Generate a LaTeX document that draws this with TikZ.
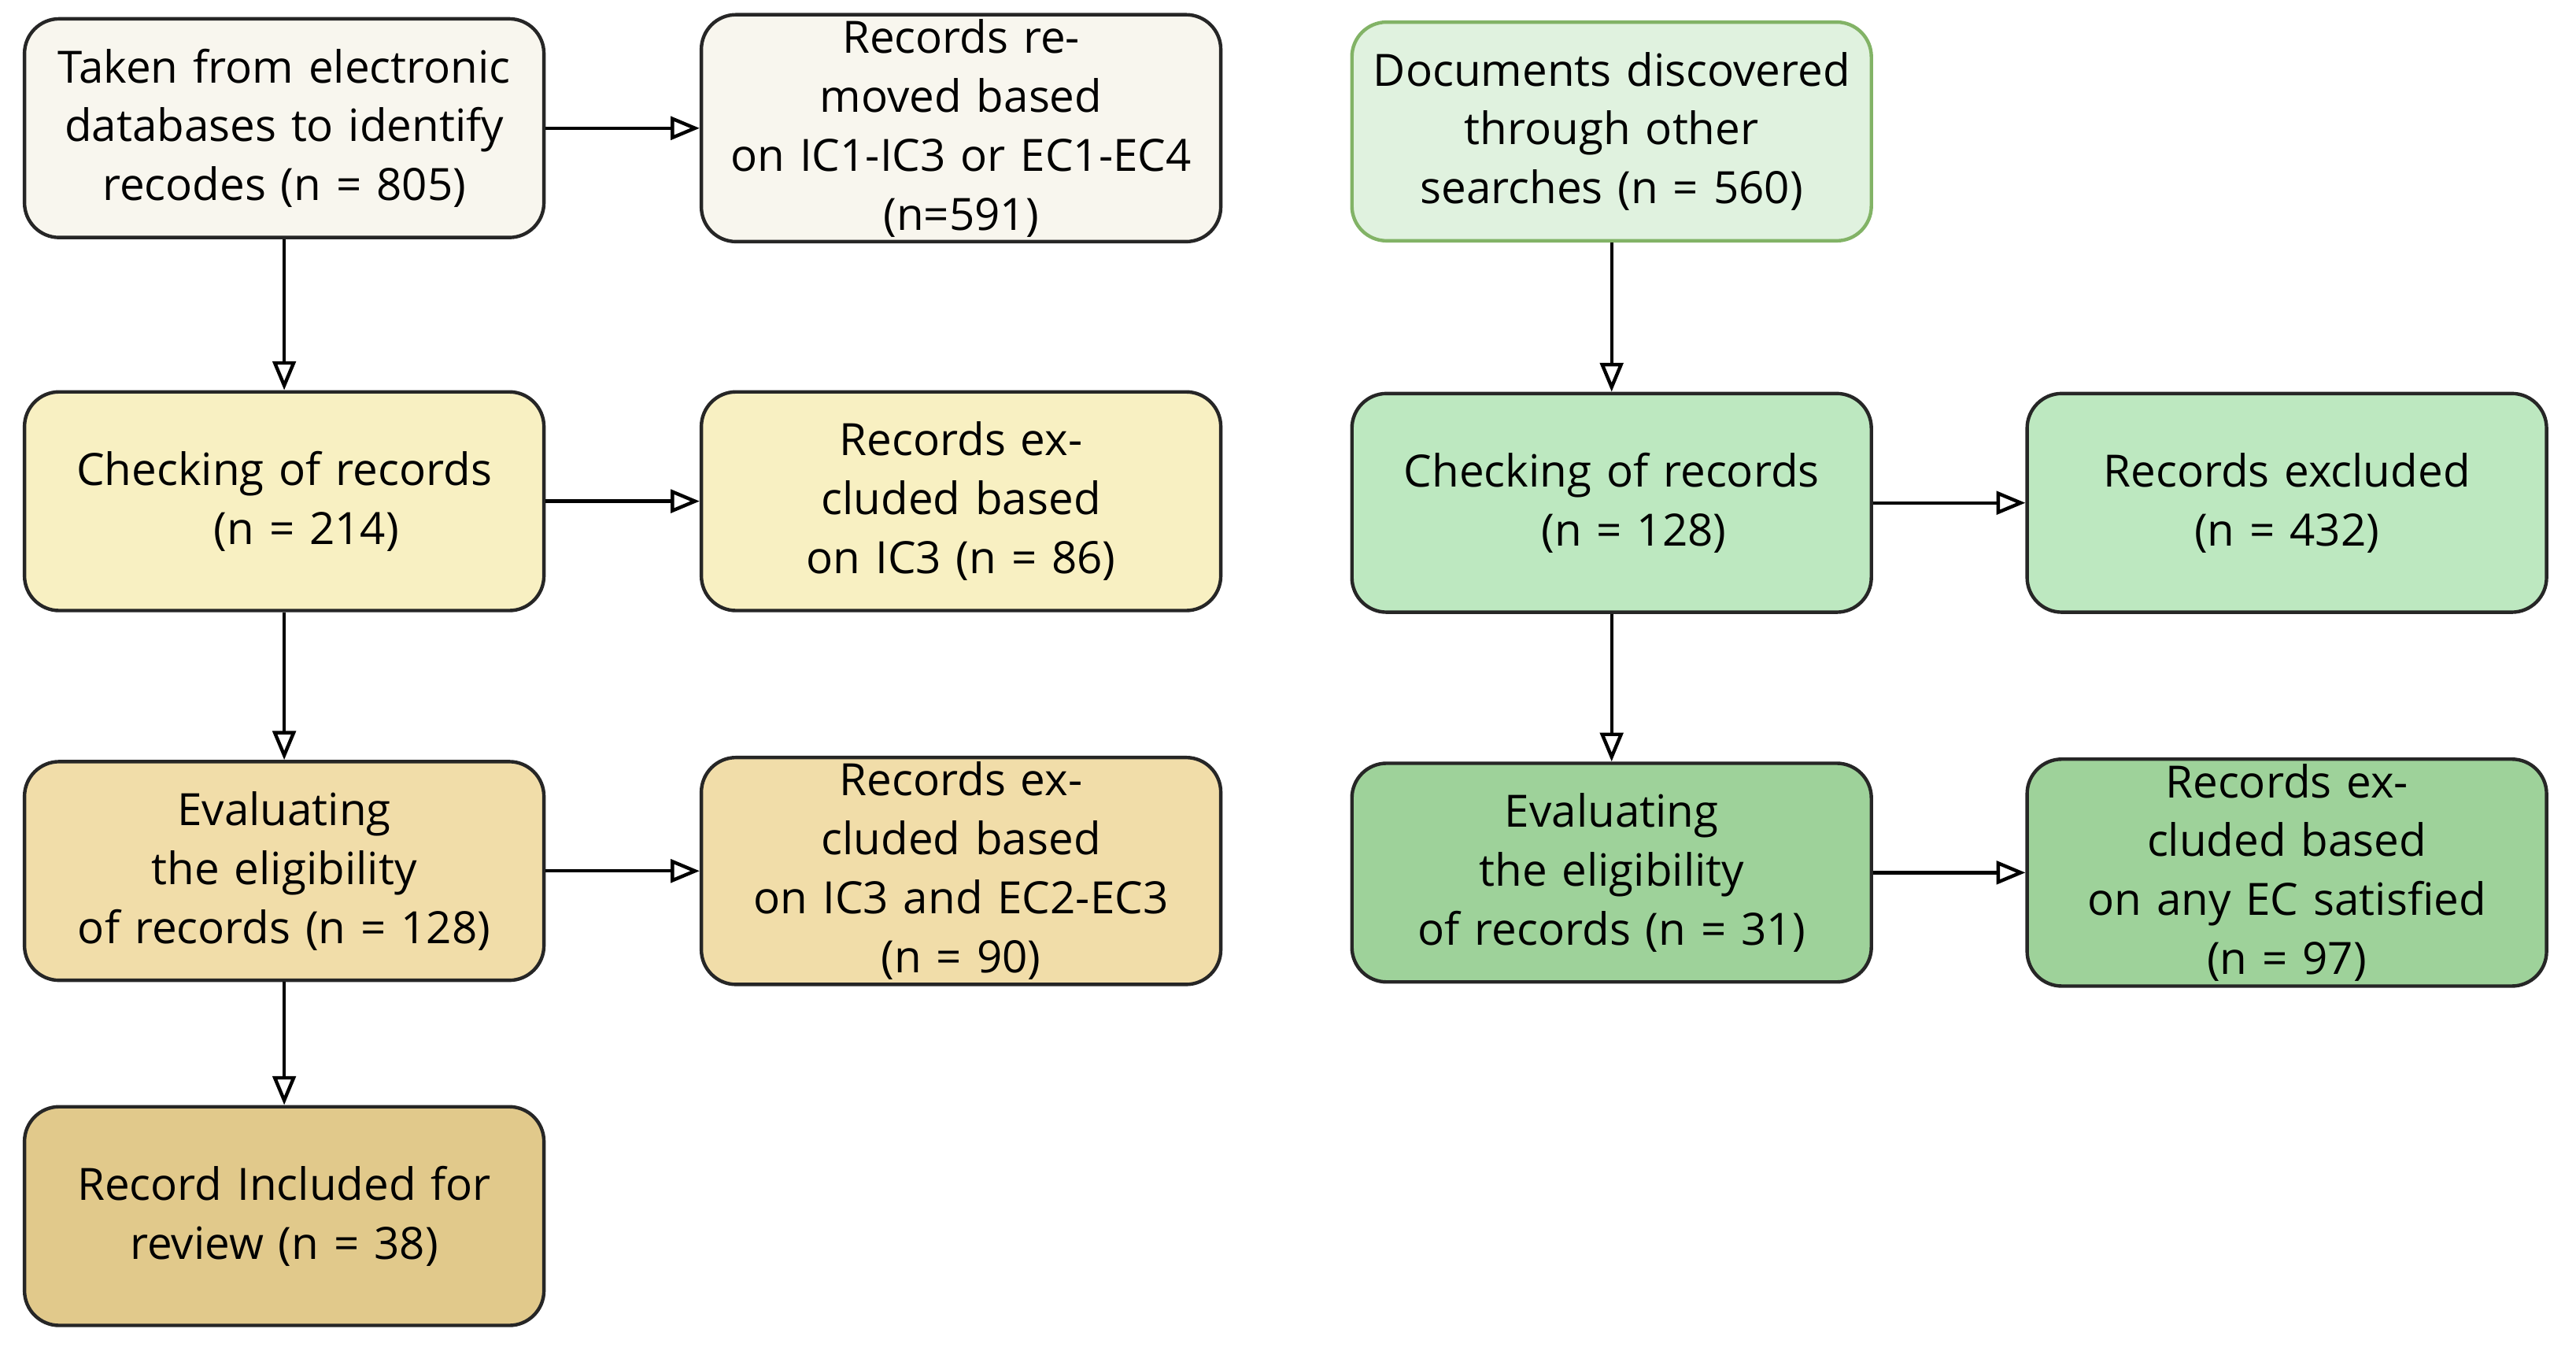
\documentclass[tikz,border=0pt]{standalone}
\usepackage{fontspec}
\setmainfont{Open Sans}
\usetikzlibrary{arrows.meta}
\definecolor{c1}{HTML}{F8F6EE}
\definecolor{c2}{HTML}{F8F0C2}
\definecolor{c3}{HTML}{F1DDA9}
\definecolor{c4}{HTML}{E1C98B}
\definecolor{g1}{HTML}{E0F2DF}
\definecolor{g2}{HTML}{BDE8C0}
\definecolor{g3}{HTML}{9ED29A}
\definecolor{gb}{HTML}{82B366}
\begin{document}
\begin{tikzpicture}[x=0.01cm,y=-0.01cm,
 box/.style={draw=black!85,line width=0.6pt,rounded corners=6pt,text width=3.0cm,minimum width=3.16cm,minimum height=1.33cm,align=center,inner sep=0.8pt,font=\fontsize{7.7}{10.2}\selectfont},
 arr/.style={-{Triangle[open,length=5pt,width=4pt]},line width=0.6pt}]
\useasboundingbox (0,0) rectangle (1568,822);
\node[box,fill=c1] (a1) at (173,78) {Taken from electronic\\databases to identify\\recodes (n = 805)};
\node[box,fill=c1] (b1) at (585,78) {Records removed based\\on IC1-IC3 or EC1-EC4\\(n=591)};
\node[box,fill=c2] (a2) at (173,305) {Checking of records\\\quad(n = 214)};
\node[box,fill=c2] (b2) at (585,305) {Records excluded based\\on IC3 (n = 86)};
\node[box,fill=c3] (a3) at (173,530) {Evaluating the eligibility\\of records (n = 128)};
\node[box,fill=c3] (b3) at (585,530) {Records excluded based\\on IC3 and EC2-EC3\\(n = 90)};
\node[box,fill=c4] (a4) at (173,740) {Record Included for\\review (n = 38)};
\node[box,fill=g1,draw=gb] (c1n) at (981,80) {Documents discovered\\through other\\searches (n = 560)};
\node[box,fill=g2] (c2n) at (981,306) {Checking of records\\\quad(n = 128)};
\node[box,fill=g2] (d2) at (1392,306) {Records excluded\\(n = 432)};
\node[box,fill=g3] (c3n) at (981,531) {Evaluating the eligibility\\of records (n = 31)};
\node[box,fill=g3] (d3) at (1392,531) {Records excluded based\\on any EC satisfied\\(n = 97)};
\draw[arr] (a1) -- (b1);
\draw[arr] (a2) -- (b2);
\draw[arr] (a3) -- (b3);
\draw[arr] (a1) -- (a2);
\draw[arr] (a2) -- (a3);
\draw[arr] (a3) -- (a4);
\draw[arr] (c1n) -- (c2n);
\draw[arr] (c2n) -- (c3n);
\draw[arr] (c2n) -- (d2);
\draw[arr] (c3n) -- (d3);
\end{tikzpicture}
\end{document}
